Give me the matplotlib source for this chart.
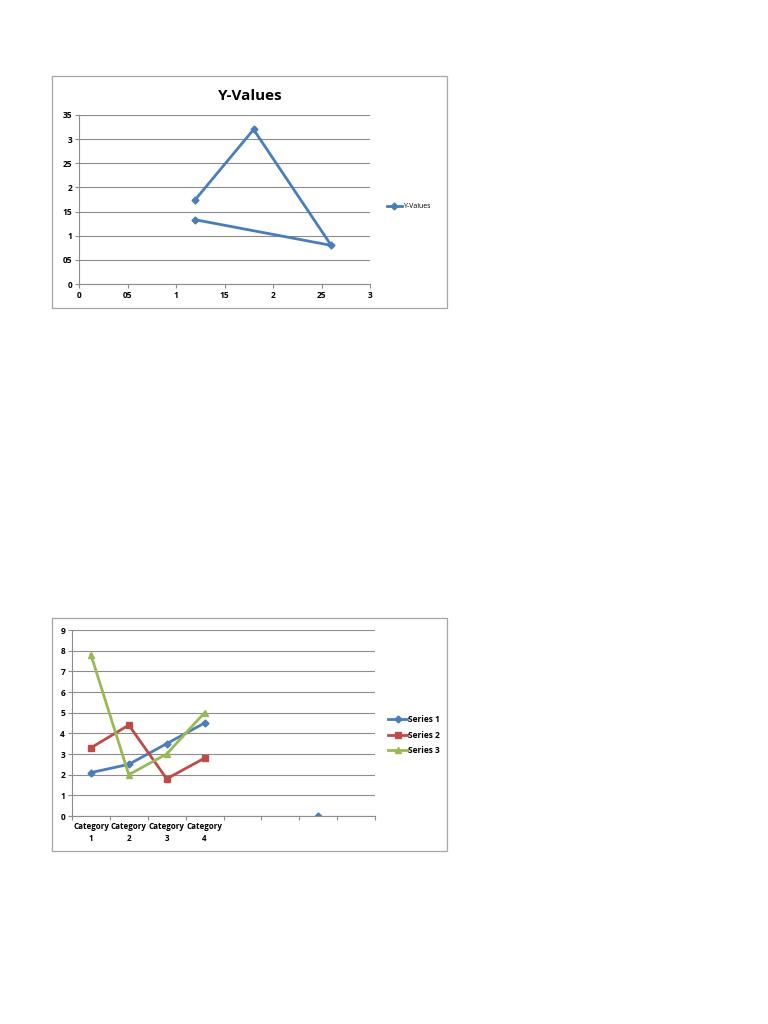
import matplotlib
matplotlib.use("Agg")
import matplotlib.pyplot as plt
from matplotlib.patches import Rectangle
import numpy as np

plt.rcParams["font.family"] = ["Open Sans", "DejaVu Sans"]

# ---- data: top scatter chart ----
top_title = "Y-Values"
top_x = [1.2, 1.8, 2.6, 1.2]
top_y = [1.75, 3.2, 0.8, 1.33]
top_yticks = [0, 0.5, 1, 1.5, 2, 2.5, 3, 3.5]
top_ytick_labels = ["0", "05", "1", "15", "2", "25", "3", "35"]
top_xticks = [0, 0.5, 1, 1.5, 2, 2.5, 3]
top_xtick_labels = ["0", "05", "1", "15", "2", "25", "3"]

# ---- data: bottom line chart ----
categories = ["Category\n1", "Category\n2", "Category\n3", "Category\n4", "", "", "", ""]
series1 = [2.1, 2.5, 3.5, 4.5, np.nan, np.nan, 0.0, np.nan]
series2 = [3.3, 4.4, 1.8, 2.8, np.nan, np.nan, np.nan, np.nan]
series3 = [7.8, 2.0, 3.0, 5.0, np.nan, np.nan, np.nan, np.nan]
series_names = ["Series 1", "Series 2", "Series 3"]
bottom_yticks = list(range(0, 10))

BLUE = "#4A7EBB"
RED = "#BE4B48"
GREEN = "#98B954"
GRID = "#8C8C8C"

W, H = 768, 1024
fig = plt.figure(figsize=(W / 100, H / 100), dpi=100)
fig.patch.set_facecolor("white")

def fx(px):
    return px / W

def fy(py):
    return 1 - py / H

def box(x0, y0, x1, y1):
    fig.patches.append(Rectangle((fx(x0), fy(y1)), fx(x1) - fx(x0), fy(y0) - fy(y1),
                                 transform=fig.transFigure, fill=False,
                                 edgecolor="#A6A6A6", linewidth=0.9))

def style_axes(ax):
    ax.set_facecolor("white")
    for s in ["top", "right"]:
        ax.spines[s].set_visible(False)
    for s in ["left", "bottom"]:
        ax.spines[s].set_color(GRID)
        ax.spines[s].set_linewidth(0.8)
    ax.yaxis.grid(True, color=GRID, linewidth=0.8)
    ax.xaxis.grid(False)
    ax.set_axisbelow(True)
    ax.tick_params(axis="both", colors=GRID, labelcolor="black", labelsize=6,
                   length=3, width=0.8, direction="out", pad=2)

# ---------- top chart ----------
box(52, 76, 447, 308)
ax1 = fig.add_axes([fx(79), fy(284), fx(370) - fx(79), fy(115) - fy(284)])
ax1.plot(top_x, top_y, color=BLUE, linewidth=2.0, marker="D", markersize=3.5,
         label=top_title)
ax1.set_xlim(0, 3)
ax1.set_ylim(0, 3.5)
ax1.set_yticks(top_yticks)
ax1.set_yticklabels(top_ytick_labels)
ax1.set_xticks(top_xticks)
ax1.set_xticklabels(top_xtick_labels)
style_axes(ax1)
for lab in ax1.get_xticklabels() + ax1.get_yticklabels():
    lab.set_fontweight("bold")
fig.text(fx(250), fy(96), top_title, ha="center", va="center",
         fontsize=11, fontweight="bold", family="Open Sans")
fig.legend(handles=ax1.get_lines(), labels=[top_title], loc="center left",
           bbox_to_anchor=(fx(384), fy(207)), frameon=False,
           handlelength=2.2, handletextpad=0.1, borderaxespad=0,
           prop={"size": 5})

# ---------- bottom chart ----------
box(52, 618, 447, 851)
ax2 = fig.add_axes([fx(72), fy(816), fx(375) - fx(72), fy(630) - fy(816)])
xpos = np.arange(len(categories)) + 0.5
l1, = ax2.plot(xpos, series1, color=BLUE, linewidth=2.0, marker="D", markersize=3.5)
l2, = ax2.plot(xpos, series2, color=RED, linewidth=2.0, marker="s", markersize=5)
l3, = ax2.plot(xpos, series3, color=GREEN, linewidth=2.0, marker="^", markersize=5)
ax2.set_xlim(0, len(categories))
ax2.set_ylim(0, 9)
ax2.set_yticks(bottom_yticks)
ax2.set_xticks(np.arange(len(categories) + 1))
ax2.set_xticklabels([])
ax2.set_xticks(xpos, minor=True)
ax2.set_xticklabels(categories, minor=True)
style_axes(ax2)
ax2.tick_params(axis="x", which="minor", length=0, pad=4, labelsize=5.8)
for lab in ax2.get_xticklabels(minor=True) + ax2.get_yticklabels():
    lab.set_fontweight("bold")
    lab.set_linespacing(1.5)
fig.legend(handles=[l1, l2, l3], labels=series_names, loc="center left",
           bbox_to_anchor=(fx(385), fy(735)), frameon=False,
           handlelength=2.2, handletextpad=0.1, borderaxespad=0,
           labelspacing=0.8, prop={"weight": "bold", "size": 6})

fig.savefig("out.png", dpi=100, facecolor="white")
